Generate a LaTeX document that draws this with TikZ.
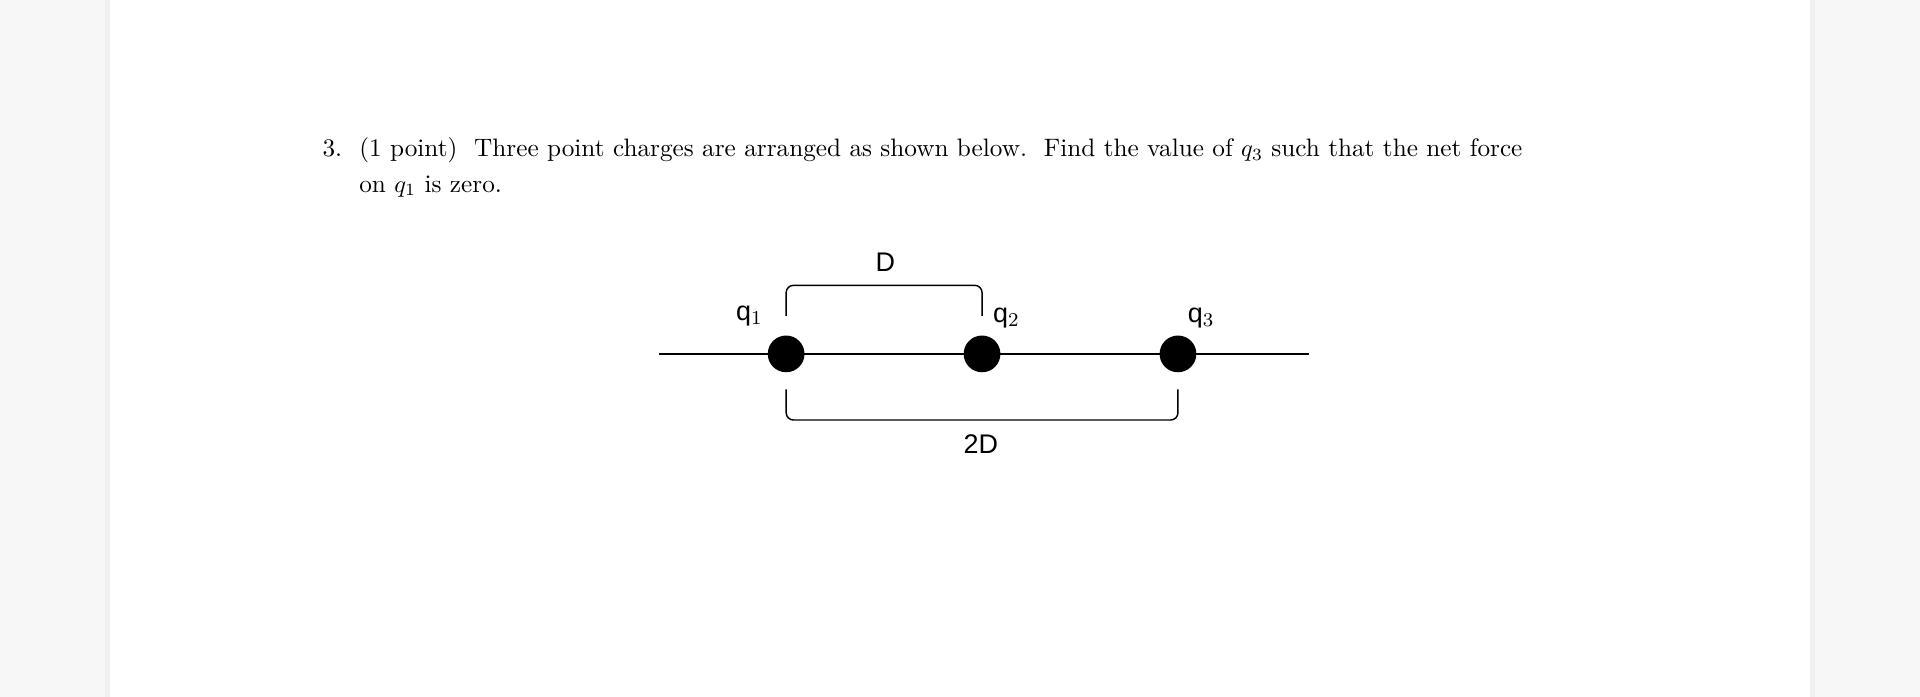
\documentclass[tikz,border=0pt]{standalone}
\usepackage{fontspec}
\newfontfamily\lib{Liberation Sans}
\begin{document}
\begin{tikzpicture}[x=0.5pt,y=-0.5pt,
  charge/.style={circle,fill=black,minimum size=15pt,inner sep=0pt},
  lbl/.style={font=\lib\fontsize{11}{13}\selectfont,inner sep=0pt},
  txt/.style={anchor=base west,inner sep=0pt,font=\fontsize{10.3}{12}\selectfont}]
\useasboundingbox (0,0) rectangle (1568,569);
\fill[gray!6] (0,0) rectangle (1568,569);
\fill[gray!12] (86,0) rectangle (1482,569);
\fill[white] (90,0) rectangle (1478,569);
\node[txt] (n) at (263,128) {3.};
\node[txt] (l1) at (293,128) {(1 point)\ \ Three point charges are arranged as shown below.\ \ Find the value of $q_3$ such that the net force};
\node[txt] (l2) at (293,157) {on $q_1$ is zero.};
\coordinate (L) at (538,289); \coordinate (R) at (1069,289);
\draw[line width=0.6pt] (L) -- (R);
\node[charge] (q1) at (642,289) {};
\node[charge] (q2) at (802,289) {};
\node[charge] (q3) at (962,289) {};
\draw[line width=0.6pt,rounded corners=3pt] (642,258) -- (642,233) -- (802,233) -- (802,258);
\draw[line width=0.6pt,rounded corners=3pt] (642,318) -- (642,343) -- (962,343) -- (962,318);
\node[lbl] (D) at (723,214) {D};
\node[lbl] (D2) at (801,363) {2D};
\node[lbl] (t1) at (612,258) {q$_1$};
\node[lbl] (t2) at (822,260) {q$_2$};
\node[lbl] (t3) at (981,260) {q$_3$};
\end{tikzpicture}
\end{document}
